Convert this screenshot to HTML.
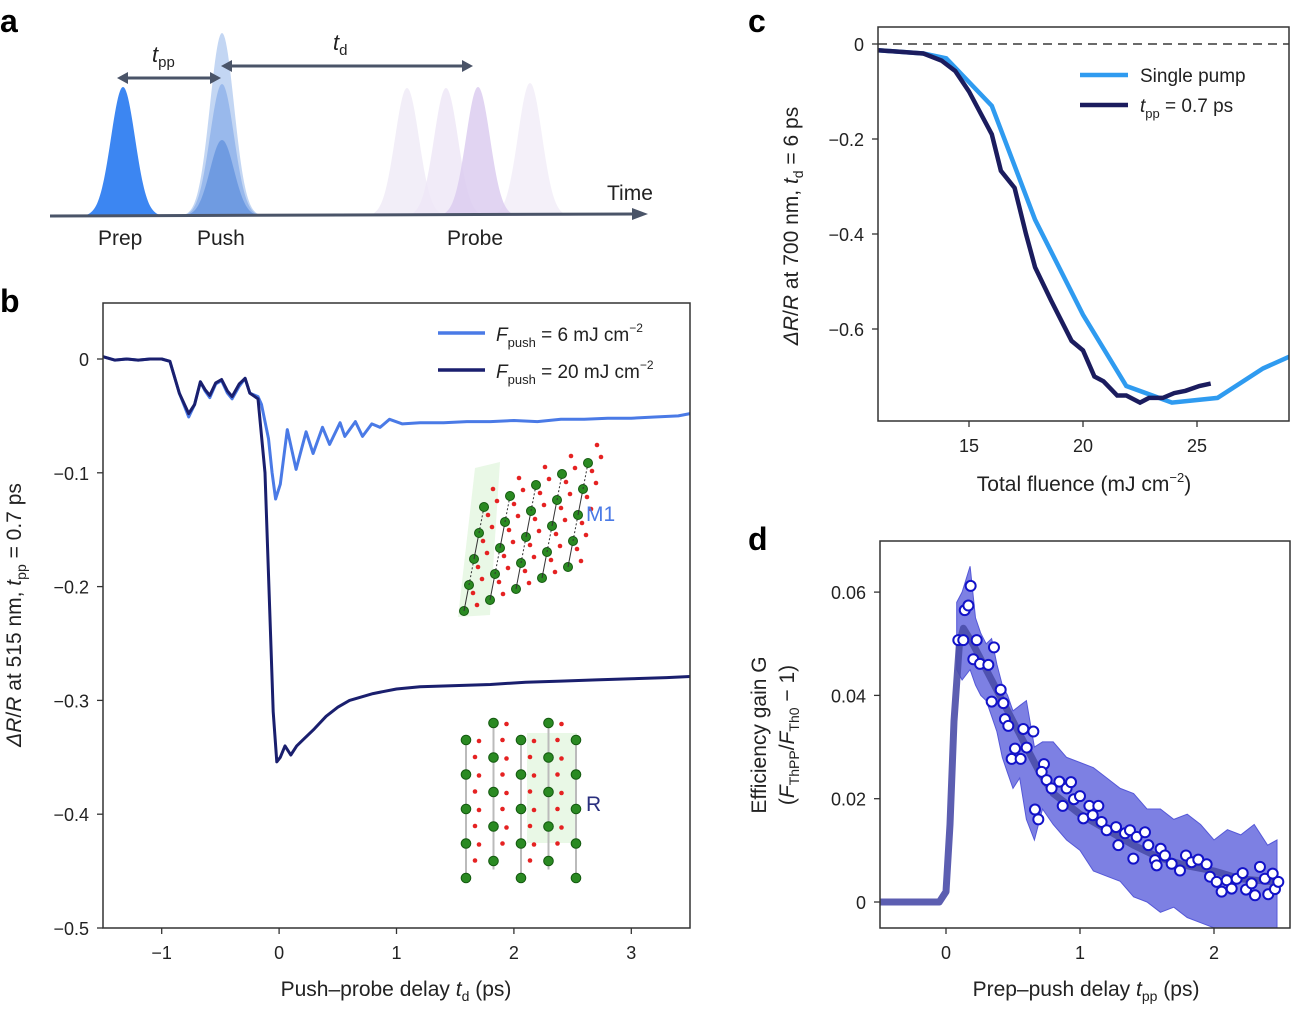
<!DOCTYPE html>
<html><head><meta charset="utf-8"><style>
html,body{margin:0;padding:0;background:#fff}
svg{display:block;font-family:"Liberation Sans",sans-serif}
</style></head><body>
<svg id="fig" width="1296" height="1009" viewBox="0 0 1296 1009">
<!-- panel letters -->
<text x="0" y="32" font-size="32" font-weight="bold">a</text>
<text x="0" y="312" font-size="32" font-weight="bold">b</text>
<text x="748" y="32" font-size="32" font-weight="bold">c</text>
<text x="748" y="550" font-size="32" font-weight="bold">d</text>

<!-- panel a schematic -->
<g id="pa">
  <g id="pulses"></g>
  <line x1="50" y1="216" x2="636" y2="214" stroke="#4a5468" stroke-width="3"/>
  <polygon points="648,214 632,208 632,220" fill="#4a5468"/>
  <text x="607" y="200" font-size="21" fill="#222">Time</text>
  <text x="98" y="245" font-size="21" fill="#222">Prep</text>
  <text x="197" y="245" font-size="21" fill="#222">Push</text>
  <text x="447" y="245" font-size="21" fill="#222">Probe</text>
  <g>
    <line x1="124" y1="78" x2="214" y2="78" stroke="#4a5468" stroke-width="3"/>
    <polygon points="117,78 128,72 128,84" fill="#4a5468"/><polygon points="221,78 210,72 210,84" fill="#4a5468"/>
  </g>
  <text x="152" y="62" font-size="22" fill="#222"><tspan font-style="italic">t</tspan><tspan font-size="15" dy="5">pp</tspan></text>
  <g>
    <line x1="228" y1="66" x2="466" y2="66" stroke="#4a5468" stroke-width="3"/>
    <polygon points="221,66 232,60 232,72" fill="#4a5468"/><polygon points="473,66 462,60 462,72" fill="#4a5468"/>
  </g>
  <text x="333" y="50" font-size="22" fill="#222"><tspan font-style="italic">t</tspan><tspan font-size="15" dy="5">d</tspan></text>
</g>

<!-- panel b -->
<g id="pb">
  <g id="bInsets"></g>
  <g id="bLines"></g>
  <rect x="103" y="303" width="587" height="625" fill="none" stroke="#333" stroke-width="1.5"/>
  <g id="bAxes"></g>
  <text x="586" y="521" font-size="21" fill="#4a7ae6">M1</text>
  <text x="586" y="811" font-size="21" fill="#2a2f7e">R</text>
  <g>
    <line x1="438" y1="333" x2="485" y2="333" stroke="#4a7ae6" stroke-width="3.5"/>
    <text x="496" y="341" font-size="19" fill="#222"><tspan font-style="italic">F</tspan><tspan font-size="13" dy="6">push</tspan><tspan dy="-6"> = 6 mJ cm</tspan><tspan font-size="12" dy="-9">−2</tspan></text>
    <line x1="438" y1="370" x2="485" y2="370" stroke="#1a1f6e" stroke-width="3.5"/>
    <text x="496" y="378" font-size="19" fill="#222"><tspan font-style="italic">F</tspan><tspan font-size="13" dy="6">push</tspan><tspan dy="-6"> = 20 mJ cm</tspan><tspan font-size="12" dy="-9">−2</tspan></text>
  </g>
  <text x="396" y="996" font-size="21" text-anchor="middle" fill="#222">Push–probe delay <tspan font-style="italic">t</tspan><tspan font-size="14" dy="5">d</tspan><tspan dy="-5"> (ps)</tspan></text>
  <text transform="translate(21,615) rotate(-90)" font-size="21" text-anchor="middle" fill="#222"><tspan font-style="italic">ΔR</tspan>/<tspan font-style="italic">R</tspan> at 515 nm, <tspan font-style="italic">t</tspan><tspan font-size="14" dy="5">pp</tspan><tspan dy="-5"> = 0.7 ps</tspan></text>
</g>

<!-- panel c -->
<g id="pc">
  <g id="cLines"></g>
  <rect x="878" y="27" width="411" height="394" fill="none" stroke="#333" stroke-width="1.5"/>
  <g id="cAxes"></g>
  <g>
    <line x1="1080" y1="75" x2="1128" y2="75" stroke="#2f9bf0" stroke-width="4.5"/>
    <text x="1140" y="82" font-size="19" fill="#222">Single pump</text>
    <line x1="1080" y1="105" x2="1128" y2="105" stroke="#1b1c5e" stroke-width="4.5"/>
    <text x="1140" y="112" font-size="19" fill="#222"><tspan font-style="italic">t</tspan><tspan font-size="13" dy="6">pp</tspan><tspan dy="-6"> = 0.7 ps</tspan></text>
  </g>
  <text x="1084" y="491" font-size="21" text-anchor="middle" fill="#222">Total fluence (mJ cm<tspan font-size="13" dy="-9">−2</tspan><tspan dy="9">)</tspan></text>
  <text transform="translate(798,226) rotate(-90)" font-size="21" text-anchor="middle" fill="#222"><tspan font-style="italic">ΔR</tspan>/<tspan font-style="italic">R</tspan> at 700 nm, <tspan font-style="italic">t</tspan><tspan font-size="14" dy="5">d</tspan><tspan dy="-5"> = 6 ps</tspan></text>
</g>

<!-- panel d -->
<g id="pd">
  <clipPath id="dclip"><rect x="880" y="541" width="410" height="387"/></clipPath>
  <g id="dMarks" clip-path="url(#dclip)"></g>
  <rect x="880" y="541" width="410" height="387" fill="none" stroke="#333" stroke-width="1.5"/>
  <g id="dAxes"></g>
  <text x="1086" y="996" font-size="21" text-anchor="middle" fill="#222">Prep–push delay <tspan font-style="italic">t</tspan><tspan font-size="14" dy="5">pp</tspan><tspan dy="-5"> (ps)</tspan></text>
  <text transform="translate(766,735) rotate(-90)" font-size="21" text-anchor="middle" fill="#222">Efficiency gain G</text>
  <text transform="translate(794,735) rotate(-90)" font-size="21" text-anchor="middle" fill="#222">(<tspan font-style="italic">F</tspan><tspan font-size="14" dy="5">ThPP</tspan><tspan dy="-5">/</tspan><tspan font-style="italic">F</tspan><tspan font-size="14" dy="5">Th0</tspan><tspan dy="-5"> − 1)</tspan></text>
</g>
</svg>
<script>
// ---------- Panel b data ----------
const bT1 = [-1.5,-1.4,-1.3,-1.2,-1.1,-1.0,-0.93,-0.85,-0.77,-0.72,-0.67,-0.63,-0.59,-0.54,-0.49,-0.44,-0.40,-0.34,-0.29,-0.25,-0.18,-0.15,-0.09,-0.06,-0.03,0.01,0.07,0.145,0.23,0.29,0.37,0.43,0.52,0.56,0.65,0.71,0.79,0.86,0.94,1.05,1.2,1.4,1.6,1.8,2.0,2.2,2.4,2.6,2.8,3.0,3.2,3.4,3.5];
const bV1 = [0.002,-0.001,0.0,-0.001,0.0,0.0,-0.002,-0.03,-0.051,-0.04,-0.02,-0.028,-0.034,-0.022,-0.019,-0.03,-0.035,-0.024,-0.017,-0.03,-0.033,-0.04,-0.07,-0.10,-0.123,-0.11,-0.062,-0.097,-0.064,-0.083,-0.06,-0.075,-0.056,-0.068,-0.055,-0.068,-0.057,-0.06,-0.053,-0.057,-0.056,-0.056,-0.055,-0.055,-0.054,-0.055,-0.053,-0.053,-0.052,-0.052,-0.051,-0.05,-0.048];
const bT2 = [-1.5,-1.4,-1.3,-1.2,-1.1,-1.0,-0.93,-0.85,-0.77,-0.72,-0.67,-0.63,-0.59,-0.54,-0.49,-0.44,-0.40,-0.34,-0.29,-0.25,-0.18,-0.12,-0.08,-0.05,-0.02,0.01,0.05,0.1,0.15,0.2,0.3,0.4,0.5,0.6,0.8,1.0,1.2,1.5,1.8,2.1,2.4,2.7,3.0,3.3,3.5];
const bV2 = [0.002,-0.001,0.0,-0.001,0.0,0.0,-0.002,-0.03,-0.048,-0.04,-0.02,-0.027,-0.032,-0.021,-0.018,-0.028,-0.033,-0.022,-0.017,-0.03,-0.035,-0.1,-0.22,-0.31,-0.354,-0.35,-0.34,-0.348,-0.34,-0.335,-0.325,-0.314,-0.306,-0.3,-0.294,-0.29,-0.288,-0.287,-0.286,-0.284,-0.283,-0.282,-0.281,-0.28,-0.279];
const bXTicks = [-1,0,1,2,3];
const bXTickLabels = ["−1","0","1","2","3"];
const bYTicks = [0,-0.1,-0.2,-0.3,-0.4,-0.5];
const bYTickLabels = ["0","−0.1","−0.2","−0.3","−0.4","−0.5"];

// ---------- Panel c data ----------
const cF1 = [11,13,14,16,17.9,20,21.9,23.9,25.9,27.9,29.2];
const cV1 = [-0.013,-0.02,-0.03,-0.13,-0.37,-0.57,-0.72,-0.755,-0.745,-0.683,-0.655];
const cF2 = [11,13,13.8,14.4,15,16,16.4,17,17.5,17.9,18.6,19.5,20,20.5,20.9,21.5,21.9,22.5,22.9,23.5,24,24.5,25.1,25.6];
const cV2 = [-0.013,-0.02,-0.035,-0.057,-0.1,-0.19,-0.267,-0.303,-0.40,-0.47,-0.54,-0.625,-0.645,-0.70,-0.71,-0.74,-0.74,-0.755,-0.745,-0.745,-0.735,-0.73,-0.72,-0.715];
const cXTicks = [15,20,25];
const cXTickLabels = ["15","20","25"];
const cYTicks = [0,-0.2,-0.4,-0.6];
const cYTickLabels = ["0","−0.2","−0.4","−0.6"];

// ---------- Panel d data ----------
const dFitT = [-0.5,-0.05,0,0.03,0.06,0.1,0.13,0.2,0.3,0.4,0.5,0.6,0.7,0.8,1.0,1.2,1.4,1.6,1.8,2.0,2.2,2.49];
const dFitG = [0,0,0.002,0.015,0.035,0.05,0.053,0.05,0.045,0.04,0.035,0.03,0.025,0.021,0.017,0.014,0.011,0.0085,0.007,0.006,0.0045,0.0038];
const dBandT = [0.08,0.12,0.18,0.22,0.26,0.3,0.34,0.38,0.42,0.46,0.5,0.55,0.6,0.66,0.72,0.8,0.9,1.0,1.1,1.2,1.3,1.4,1.5,1.6,1.7,1.8,1.9,2.0,2.1,2.2,2.3,2.4,2.47];
const dBandUpper = [0.058,0.060,0.065,0.055,0.052,0.050,0.051,0.046,0.042,0.040,0.037,0.038,0.039,0.030,0.031,0.031,0.028,0.027,0.026,0.024,0.022,0.021,0.018,0.018,0.016,0.017,0.015,0.012,0.014,0.013,0.015,0.011,0.012];
const dBandLower = [0.045,0.043,0.045,0.042,0.040,0.039,0.036,0.033,0.028,0.025,0.022,0.024,0.016,0.012,0.018,0.015,0.012,0.010,0.006,0.005,0.004,0.001,0.000,-0.002,-0.001,-0.003,-0.004,-0.005,-0.006,-0.006,-0.006,-0.006,-0.006];
const dPtT = [0.092,0.129,0.140,0.167,0.184,0.229,0.204,0.254,0.316,0.358,0.408,0.341,0.428,0.440,0.465,0.577,0.652,0.602,0.515,0.490,0.557,0.664,0.689,0.731,0.714,0.751,0.788,0.846,0.90,0.933,0.871,0.955,1.0,1.025,1.07,1.137,1.095,1.161,1.199,1.269,1.286,1.336,1.373,1.398,1.423,1.485,1.510,1.560,1.572,1.602,1.634,1.684,1.746,1.791,1.833,1.883,1.945,1.970,2.02,2.057,2.095,2.132,2.169,2.214,2.239,2.281,2.306,2.343,2.380,2.405,2.438,2.455,2.48];
const dPtG = [0.0507,0.0507,0.0565,0.0574,0.0612,0.0507,0.047,0.0461,0.0459,0.0493,0.0411,0.0388,0.0385,0.0354,0.0341,0.0335,0.0330,0.0299,0.0297,0.0277,0.0277,0.0179,0.016,0.0267,0.0252,0.0236,0.022,0.0233,0.022,0.0232,0.0186,0.0199,0.0205,0.0162,0.0186,0.0186,0.0168,0.0155,0.0139,0.0145,0.011,0.0133,0.0139,0.0084,0.0126,0.0135,0.011,0.0081,0.0071,0.0103,0.009,0.0074,0.0061,0.009,0.0077,0.0082,0.0073,0.0049,0.0039,0.002,0.0042,0.0026,0.0045,0.0056,0.0024,0.0036,0.0013,0.0068,0.0045,0.0015,0.0055,0.0025,0.0039];
const dXTicks = [0,1,2];
const dXTickLabels = ["0","1","2"];
const dYTicks = [0,0.02,0.04,0.06];
const dYTickLabels = ["0","0.02","0.04","0.06"];

// ---------- helpers ----------
const NS = "http://www.w3.org/2000/svg";
function mk(tag, attrs, parent){ const e=document.createElementNS(NS,tag); for(const k in attrs) e.setAttribute(k,attrs[k]); parent.appendChild(e); return e; }
function lin(d0,d1,r0,r1){ return v => r0 + (v-d0)/(d1-d0)*(r1-r0); }
function pathFrom(xs, ys, sx, sy){ return xs.map((x,i)=>(i?'L':'M')+sx(x).toFixed(1)+','+sy(ys[i]).toFixed(1)).join(''); }
function axes(g, xt, xl, yt, yl, sx, sy, x0, yb, fs){
  xt.forEach((t,i)=>{
    const l = mk('line',{x1:sx(t),x2:sx(t),y1:yb,y2:yb+6,stroke:'#333','stroke-width':1.3},g);
    
    
    const tx = mk('text',{x:sx(t),y:yb+31,'font-size':fs,'text-anchor':'middle',fill:'#222'},g);
    tx.textContent = xl[i];
    
    
  });
  yt.forEach((t,i)=>{
    const l = mk('line',{x1:x0-6,x2:x0,y1:sy(t),y2:sy(t),stroke:'#333','stroke-width':1.3},g);
    
    
    const tx = mk('text',{x:x0-14,y:sy(t)+7,'font-size':fs,'text-anchor':'end',fill:'#222'},g);
    tx.textContent = yl[i];
    
    
  });
}

// ---------- panel a pulses ----------
(function(){
  const g = document.getElementById('pulses');
  function gauss(cx, peakY, sig, fill, op){
    let d = 'M'+(cx-4*sig)+',216';
    for(let x=-4*sig;x<=4*sig;x+=1){ const y=216-(216-peakY)*Math.exp(-x*x/(2*sig*sig)); d+='L'+(cx+x)+','+y.toFixed(1); }
    d+='L'+(cx+4*sig)+',216Z';
    const p = mk('path',{d:d,fill:fill,'fill-opacity':op},g);
    
    
  }
  gauss(123,87,12,'#3c86f2',1);
  gauss(222,33,12,'#bcd2f2',0.9);
  gauss(222,84,12,'#8fb2ea',0.8);
  gauss(222,140,12,'#4d84d8',0.55);
  gauss(407,88,12,'#f1ecf7',0.9);
  gauss(446,88,12,'#eee6f6',0.8);
  gauss(530,83,12,'#f1ecf7',0.8);
  gauss(478,87,12,'#dccdf0',0.85);
})();

// ---------- panel b ----------
(function(){
  const sx = lin(-1.5,3.5,103,690), sy = lin(0,-0.5,359,928);
  const gi = document.getElementById('bInsets');
  // M1 inset
  mk('polygon',{points:'475,468 500,462 490,615 458,617',fill:'#dff5dc','fill-opacity':0.7},gi);
  for(let i=0;i<5;i++){
    const bx=464+i*26, by=611-i*11;
    for(let j=0;j<5;j++){
      const x=bx+j*5, y=by-j*26;
      const c=mk('circle',{cx:x,cy:y,r:4.5,fill:'#2a8a22',stroke:'#145a10','stroke-width':1},gi);
      
      
      if(j<4){ mk('line',{x1:x,y1:y,x2:x+5,y2:y-26,stroke:'#333','stroke-width':1,'stroke-dasharray':j%2?'2,2':'0'},gi); }
      const r=mk('circle',{cx:x+13,cy:y-6,r:2.3,fill:'#e52222'},gi);
      
      
      mk('circle',{cx:x+9,cy:y-18,r:2.3,fill:'#e52222'},gi);
    }
  }
  // R inset
  mk('rect',{x:527,y:733,width:50,height:110,fill:'#dff5dc','fill-opacity':0.7},gi);
  for(let i=0;i<5;i++){
    const x=466+i*27.5, off=(i%2)?-17:0;
    mk('line',{x1:x,y1:738+off,x2:x,y2:878+off/2,stroke:'#bbb','stroke-width':2},gi);
    for(let j=0;j<5;j++){
      const y=740+off+j*34.5;
      const c=mk('circle',{cx:x,cy:y,r:4.8,fill:'#2a8a22',stroke:'#145a10','stroke-width':1},gi);
      
      
      if(i<4 && j<4){ mk('circle',{cx:x+13,cy:y+1,r:2.3,fill:'#e52222'},gi); mk('circle',{cx:x+9,cy:y+17,r:2.3,fill:'#e52222'},gi); }
    }
  }
  const g = document.getElementById('bLines');
  const p1 = mk('path',{d:pathFrom(bT1,bV1,sx,sy),fill:'none',stroke:'#4a7ae6','stroke-width':3,'stroke-linejoin':'round'},g);
  
  
  const p2 = mk('path',{d:pathFrom(bT2,bV2,sx,sy),fill:'none',stroke:'#1a1f6e','stroke-width':3,'stroke-linejoin':'round'},g);
  
  
  axes(document.getElementById('bAxes'), bXTicks,bXTickLabels,bYTicks,bYTickLabels,sx,sy,103,928,18);
})();

// ---------- panel c ----------
(function(){
  const sx = lin(15,25,969,1197), sy = lin(0,-0.6,44,329);
  const g = document.getElementById('cLines');
  const z = mk('line',{x1:878,x2:1289,y1:sy(0),y2:sy(0),stroke:'#555','stroke-width':1.8,'stroke-dasharray':'9,6'},g);
  
  
  const cp = mk('clipPath',{id:'cclip'},g); mk('rect',{x:878,y:27,width:411,height:394},cp);
  const p1 = mk('path',{d:pathFrom(cF1,cV1,sx,sy),fill:'none',stroke:'#2f9bf0','stroke-width':4.5,'clip-path':'url(#cclip)'},g);
  
  
  const p2 = mk('path',{d:pathFrom(cF2,cV2,sx,sy),fill:'none',stroke:'#1b1c5e','stroke-width':4.5,'clip-path':'url(#cclip)'},g);
  
  
  axes(document.getElementById('cAxes'), cXTicks,cXTickLabels,cYTicks,cYTickLabels,sx,sy,878,421,18);
})();

// ---------- panel d ----------
(function(){
  const sx = lin(0,1,946,1080), sy = lin(0,0.02,902,798.7);
  const g = document.getElementById('dMarks');
  let d = pathFrom(dBandT,dBandUpper,sx,sy);
  for(let i=dBandT.length-1;i>=0;i--) d += 'L'+sx(dBandT[i]).toFixed(1)+','+sy(dBandLower[i]).toFixed(1);
  const band = mk('path',{d:d+'Z',fill:'#6f72e0','fill-opacity':0.9,stroke:'#5558d8','stroke-width':1},g);
  
  
  const fit = mk('path',{d:pathFrom(dFitT,dFitG,sx,sy),fill:'none',stroke:'#4a4da8','stroke-width':7,'stroke-opacity':0.9,'stroke-linejoin':'round'},g);
  
  
  dPtT.forEach((t,i)=>{
    const c = mk('circle',{cx:sx(t),cy:sy(dPtG[i]),r:5,fill:'#fff',stroke:'#1212c8','stroke-width':2},g);
    
    
  });
  axes(document.getElementById('dAxes'), dXTicks,dXTickLabels,dYTicks,dYTickLabels,sx,sy,880,928,18);
})();
</script>
</body></html>
